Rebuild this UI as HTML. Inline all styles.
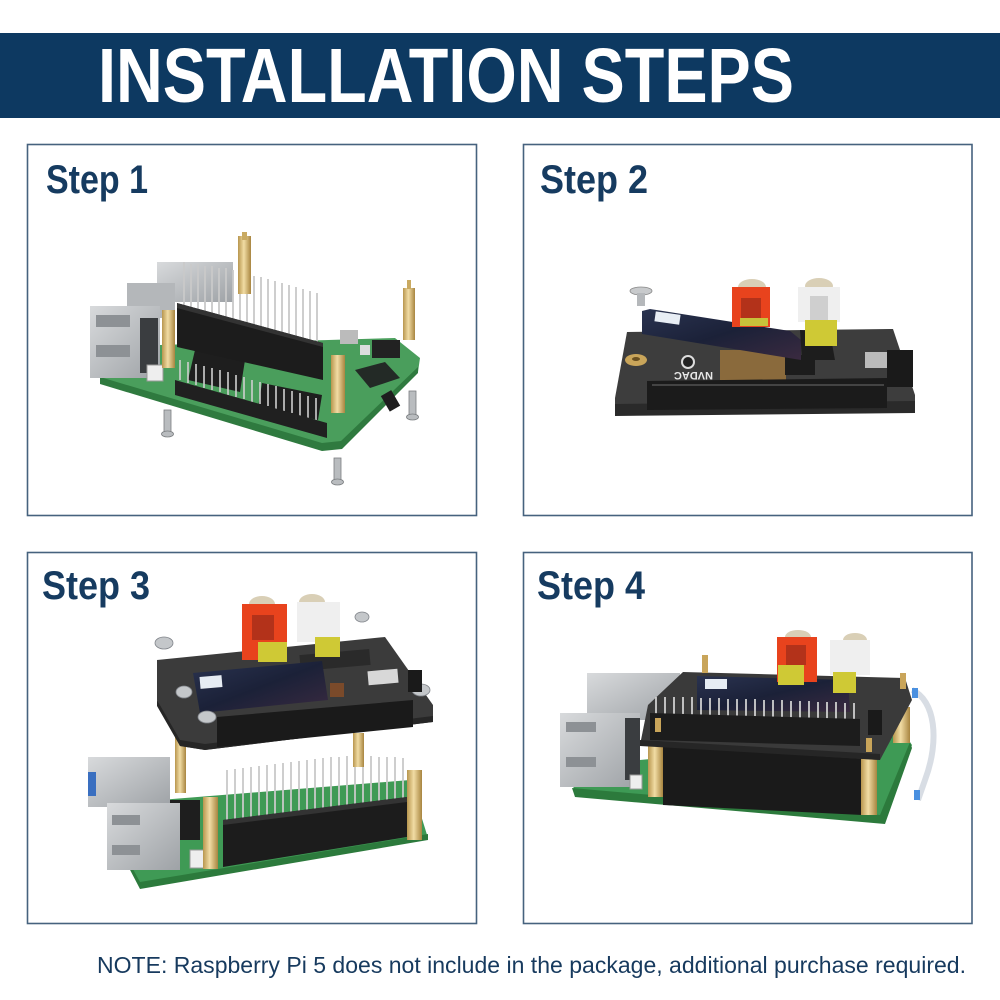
<!DOCTYPE html>
<html>
<head>
<meta charset="utf-8">
<style>
html,body{margin:0;padding:0;background:#fff;}
svg{display:block;}
</style>
</head>
<body>
<svg width="1000" height="1000" viewBox="0 0 1000 1000" xmlns="http://www.w3.org/2000/svg">
<defs>
<linearGradient id="brass" x1="0" x2="1" y1="0" y2="0">
<stop offset="0" stop-color="#b8964e"/><stop offset="0.45" stop-color="#f1dca4"/><stop offset="1" stop-color="#a88540"/>
</linearGradient>
<linearGradient id="metal" x1="0" x2="1" y1="0" y2="1">
<stop offset="0" stop-color="#d8dadc"/><stop offset="1" stop-color="#9ea2a6"/>
</linearGradient>
<linearGradient id="ssd" x1="0" x2="1" y1="0" y2="1">
<stop offset="0" stop-color="#2a3350"/><stop offset="0.5" stop-color="#1b2138"/><stop offset="1" stop-color="#3a2a40"/>
</linearGradient>
</defs>
<rect width="1000" height="1000" fill="#fff"/>

<!-- Banner -->
<rect x="0" y="33" width="1000" height="85" fill="#0d3961"/>
<text x="98" y="102" font-family="Liberation Sans, sans-serif" font-weight="bold" font-size="77" fill="#fff" textLength="696" lengthAdjust="spacingAndGlyphs">INSTALLATION STEPS</text>

<!-- Boxes -->
<g fill="none" stroke="#46627e" stroke-width="1.6">
<rect x="27.5" y="144.5" width="449" height="371"/>
<rect x="523.5" y="144.5" width="448.5" height="371"/>
<rect x="27.5" y="552.5" width="449" height="371"/>
<rect x="523.5" y="552.5" width="448.5" height="371"/>
</g>

<g font-family="Liberation Sans, sans-serif" font-weight="bold" font-size="40" fill="#163b60">
<text x="46" y="193" textLength="102" lengthAdjust="spacingAndGlyphs">Step 1</text>
<text x="540" y="193" textLength="108" lengthAdjust="spacingAndGlyphs">Step 2</text>
<text x="42" y="599" textLength="108" lengthAdjust="spacingAndGlyphs">Step 3</text>
<text x="537" y="599" textLength="108" lengthAdjust="spacingAndGlyphs">Step 4</text>
</g>

<!-- ============ STEP 1 ============ -->
<g>
<!-- board -->
<polygon points="100,366 160,345 395,338 420,358 418,372 342,446 322,448 100,382" fill="#4a9e5c"/>
<polygon points="100,377 322,443 341,441 418,367 418,373 342,449 322,451 100,384" fill="#2f7a3f"/>
<!-- chips -->
<polygon points="195,350 245,360 240,392 188,380" fill="#1e1e1e"/>
<polygon points="262,383 322,395 318,420 258,408" fill="#1e1e1e"/>
<polygon points="355,370 385,362 400,378 370,388" fill="#232a26"/>
<rect x="372" y="340" width="28" height="18" fill="#222"/>
<rect x="340" y="330" width="18" height="14" fill="#bbb"/>
<rect x="360" y="345" width="10" height="10" fill="#ddd"/>
<rect x="384" y="392" width="12" height="18" fill="#1e1e1e" transform="rotate(-30 390 400)"/>
<!-- metal ports -->
<rect x="157" y="262" width="76" height="40" fill="url(#metal)"/>
<rect x="127" y="283" width="48" height="35" fill="#b4b7ba"/>
<rect x="90" y="306" width="70" height="72" fill="url(#metal)"/>
<rect x="96" y="315" width="34" height="12" fill="#8d9195"/>
<rect x="96" y="345" width="34" height="12" fill="#8d9195"/>
<rect x="140" y="318" width="18" height="55" fill="#3a3d40"/>
<rect x="147" y="365" width="16" height="16" fill="#eee" stroke="#999" stroke-width="1"/>
<!-- big header pins -->
<g stroke="#c9c9c9" stroke-width="1.8">
<line x1="184" y1="262" x2="184" y2="305"/><line x1="191" y1="264" x2="191" y2="307"/><line x1="198" y1="264" x2="198" y2="309"/><line x1="205" y1="266" x2="205" y2="311"/><line x1="212" y1="266" x2="212" y2="313"/><line x1="219" y1="268" x2="219" y2="315"/><line x1="226" y1="268" x2="226" y2="317"/><line x1="233" y1="270" x2="233" y2="319"/><line x1="240" y1="272" x2="240" y2="321"/><line x1="247" y1="274" x2="247" y2="323"/><line x1="254" y1="276" x2="254" y2="325"/><line x1="261" y1="277" x2="261" y2="326"/><line x1="268" y1="279" x2="268" y2="328"/><line x1="275" y1="281" x2="275" y2="330"/><line x1="282" y1="283" x2="282" y2="332"/><line x1="289" y1="285" x2="289" y2="334"/><line x1="296" y1="287" x2="296" y2="336"/><line x1="303" y1="289" x2="303" y2="338"/><line x1="310" y1="291" x2="310" y2="340"/><line x1="317" y1="293" x2="317" y2="342"/>
</g>
<polygon points="177,303 323,343 323,380 177,347" fill="#1c1c1c"/>
<polygon points="177,303 323,343 323,347 177,308" fill="#333"/>
<!-- lower header -->
<g stroke="#cfcfcf" stroke-width="1.6">
<line x1="180" y1="360" x2="180" y2="380"/><line x1="188" y1="362" x2="188" y2="383"/><line x1="196" y1="364" x2="196" y2="385"/><line x1="204" y1="366" x2="204" y2="388"/><line x1="212" y1="368" x2="212" y2="390"/><line x1="220" y1="370" x2="220" y2="392"/><line x1="228" y1="372" x2="228" y2="395"/><line x1="236" y1="375" x2="236" y2="397"/><line x1="244" y1="377" x2="244" y2="399"/><line x1="252" y1="380" x2="252" y2="402"/><line x1="260" y1="382" x2="260" y2="404"/><line x1="268" y1="384" x2="268" y2="406"/><line x1="276" y1="386" x2="276" y2="409"/><line x1="284" y1="389" x2="284" y2="411"/><line x1="292" y1="391" x2="292" y2="413"/><line x1="300" y1="393" x2="300" y2="416"/><line x1="308" y1="396" x2="308" y2="418"/><line x1="316" y1="398" x2="316" y2="420"/>
</g>
<polygon points="175,380 327,423 327,438 175,395" fill="#202020"/>
<!-- standoffs -->
<rect x="238" y="236" width="13" height="58" fill="url(#brass)"/>
<rect x="242" y="232" width="5" height="8" fill="#c9aa62"/>
<rect x="403" y="288" width="12" height="52" fill="url(#brass)"/>
<rect x="407" y="280" width="4" height="9" fill="#c9aa62"/>
<rect x="162" y="310" width="13" height="58" fill="url(#brass)"/>
<rect x="331" y="355" width="14" height="58" fill="url(#brass)"/>
<!-- screws -->
<g fill="#b9bcbf" stroke="#7a7d80" stroke-width="0.8">
<rect x="164" y="410" width="7" height="22"/><ellipse cx="167.5" cy="434" rx="6" ry="3"/>
<rect x="409" y="391" width="7" height="24"/><ellipse cx="412.5" cy="417" rx="6" ry="3"/>
<rect x="334" y="458" width="7" height="22"/><ellipse cx="337.5" cy="482" rx="6" ry="3"/>
</g>
</g>

<!-- ============ STEP 2 ============ -->
<g>
<polygon points="627,332 893,329 915,395 915,412 615,415 615,398" fill="#3d3d3d"/>
<polygon points="615,404 915,401 915,413 615,416" fill="#2a2a2a"/>
<!-- gold pads -->
<rect x="720" y="350" width="66" height="30" fill="#8a6a3c"/>
<!-- components -->
<rect x="785" y="355" width="30" height="20" fill="#1c1c1c"/>
<rect x="865" y="352" width="22" height="16" fill="#bbb"/>
<circle cx="688" cy="362" r="6" fill="#222" stroke="#ddd" stroke-width="2"/>
<!-- header -->
<polygon points="647,381 887,378 887,408 647,410" fill="#1b1b1b"/>
<g fill="#444">
<rect x="652" y="384" width="232" height="2"/>
</g>
<!-- SSD -->
<polygon points="642,311 650,309 790,331 801,340 801,360 642,334" fill="url(#ssd)"/>
<polygon points="800,330 830,333 835,360 802,360" fill="#1d1d1d"/>
<rect x="655" y="313" width="25" height="10" fill="#e8eef5" transform="rotate(8 667 318)"/>
<!-- connectors -->
<ellipse cx="752" cy="287" rx="14" ry="8" fill="#d9cfb6"/>
<rect x="732" y="287" width="38" height="40" fill="#e8431d"/>
<rect x="741" y="298" width="20" height="22" fill="#b3321a"/>
<rect x="740" y="318" width="28" height="8" fill="#c8c23a"/>
<ellipse cx="819" cy="286" rx="14" ry="8" fill="#d9cfb6"/>
<rect x="798" y="287" width="42" height="35" fill="#efefef"/>
<rect x="810" y="296" width="18" height="24" fill="#cfcfcf"/>
<rect x="805" y="320" width="32" height="26" fill="#cfc935"/>
<!-- jack -->
<rect x="887" y="350" width="26" height="37" fill="#1a1a1a"/>
<!-- screw -->
<ellipse cx="641" cy="291" rx="11" ry="4" fill="#c8cacc" stroke="#888" stroke-width="0.8"/>
<rect x="637" y="293" width="8" height="13" fill="#b5b8bb"/>
<!-- standoff -->
<ellipse cx="636" cy="360" rx="11" ry="6" fill="#c9a55a"/>
<ellipse cx="636" cy="359" rx="4" ry="2" fill="#6a5020"/>
<text x="0" y="0" font-family="Liberation Sans, sans-serif" font-weight="bold" font-size="11" fill="#e8e8e8" transform="translate(713,372) rotate(180)">NVDAC</text>
</g>

<!-- ============ STEP 3 ============ -->
<g>
<!-- lower pi board -->
<polygon points="160,800 410,780 428,838 140,888 128,860" fill="#3f9a55"/>
<polygon points="128,860 140,882 428,834 428,840 140,889 128,866" fill="#2c7a3c"/>
<rect x="170" y="800" width="30" height="40" fill="#1e1e1e"/>
<!-- metal ports -->
<rect x="88" y="757" width="82" height="50" fill="url(#metal)"/>
<rect x="88" y="772" width="8" height="24" fill="#3a6fc0"/>
<rect x="107" y="803" width="73" height="67" fill="url(#metal)"/>
<rect x="112" y="815" width="28" height="10" fill="#8d9195"/>
<rect x="112" y="845" width="28" height="10" fill="#8d9195"/>
<rect x="190" y="850" width="14" height="18" fill="#eee" stroke="#999" stroke-width="1"/>
<!-- pins -->
<g stroke="#c9c9c9" stroke-width="1.8">
<line x1="227" y1="770" x2="227" y2="820"/><line x1="235" y1="769" x2="235" y2="819"/><line x1="243" y1="768" x2="243" y2="818"/><line x1="251" y1="767" x2="251" y2="817"/><line x1="259" y1="766" x2="259" y2="816"/><line x1="267" y1="765" x2="267" y2="815"/><line x1="275" y1="764" x2="275" y2="814"/><line x1="283" y1="763" x2="283" y2="813"/><line x1="291" y1="762" x2="291" y2="812"/><line x1="299" y1="761" x2="299" y2="811"/><line x1="307" y1="760" x2="307" y2="810"/><line x1="315" y1="759" x2="315" y2="809"/><line x1="323" y1="758" x2="323" y2="808"/><line x1="331" y1="757" x2="331" y2="807"/><line x1="339" y1="757" x2="339" y2="806"/><line x1="347" y1="756" x2="347" y2="805"/><line x1="355" y1="756" x2="355" y2="804"/><line x1="363" y1="756" x2="363" y2="803"/><line x1="371" y1="756" x2="371" y2="802"/><line x1="379" y1="757" x2="379" y2="801"/><line x1="387" y1="757" x2="387" y2="800"/><line x1="395" y1="757" x2="395" y2="799"/><line x1="403" y1="758" x2="403" y2="798"/>
</g>
<polygon points="223,820 407,797 407,837 223,867" fill="#1c1c1c"/>
<polygon points="223,820 407,797 407,802 223,825" fill="#333"/>
<!-- lower standoffs -->
<rect x="203" y="797" width="15" height="72" fill="url(#brass)"/>
<rect x="407" y="770" width="15" height="70" fill="url(#brass)"/>
<rect x="175" y="728" width="11" height="65" fill="url(#brass)"/>
<rect x="353" y="733" width="11" height="34" fill="url(#brass)"/>
<!-- HAT board -->
<polygon points="157,660 385,637 433,705 433,722 205,750 180,746 157,700" fill="#3b3b3b"/>
<polygon points="157,700 180,740 205,744 433,716 433,722 205,750 180,746 157,706" fill="#262626"/>
<polygon points="217,717 413,700 413,727 217,747" fill="#1a1a1a"/>
<rect x="300" y="652" width="70" height="16" fill="#2a2a2a" transform="rotate(-5 335 660)"/>
<!-- SSD -->
<polygon points="193,673 322,661 328,700 200,713" fill="url(#ssd)"/>
<rect x="200" y="676" width="22" height="12" fill="#e6ecf3" transform="rotate(-5 211 682)"/>
<rect x="330" y="683" width="14" height="14" fill="#7a4a2a"/>
<rect x="368" y="670" width="30" height="14" fill="#d8d8d8" transform="rotate(-5 383 677)"/>
<!-- connectors -->
<ellipse cx="262" cy="604" rx="13" ry="8" fill="#d9cfb6"/>
<rect x="242" y="604" width="45" height="56" fill="#e8431d"/>
<rect x="252" y="615" width="22" height="25" fill="#b3321a"/>
<rect x="258" y="642" width="29" height="20" fill="#cfc935"/>
<ellipse cx="312" cy="602" rx="13" ry="8" fill="#d9cfb6"/>
<rect x="297" y="602" width="43" height="40" fill="#efefef"/>
<rect x="315" y="637" width="25" height="20" fill="#cfc935"/>
<!-- nuts -->
<g fill="#c4c7ca" stroke="#80848a" stroke-width="0.8">
<ellipse cx="164" cy="643" rx="9" ry="6"/>
<ellipse cx="362" cy="617" rx="7" ry="5"/>
<ellipse cx="421" cy="690" rx="9" ry="6"/>
<ellipse cx="207" cy="717" rx="9" ry="6"/>
<ellipse cx="184" cy="692" rx="8" ry="6"/>
</g>
<rect x="408" y="670" width="14" height="22" fill="#1a1a1a"/>
</g>

<!-- ============ STEP 4 ============ -->
<g>
<!-- pi board -->
<polygon points="572,780 640,760 905,735 912,745 885,822 575,795" fill="#3e9a55"/>
<polygon points="572,788 880,815 910,742 912,748 885,824 575,797" fill="#2c7a3c"/>
<!-- metal -->
<rect x="587" y="673" width="93" height="47" fill="url(#metal)"/>
<rect x="560" y="713" width="80" height="74" fill="url(#metal)"/>
<rect x="566" y="722" width="30" height="10" fill="#8d9195"/>
<rect x="566" y="757" width="30" height="10" fill="#8d9195"/>
<rect x="625" y="718" width="15" height="62" fill="#3a3d40"/>
<rect x="630" y="775" width="12" height="14" fill="#eee" stroke="#999" stroke-width="1"/>
<!-- big header -->
<polygon points="663,740 862,745 862,815 663,805" fill="#1a1a1a"/>
<!-- standoffs -->
<rect x="648" y="743" width="15" height="54" fill="url(#brass)"/>
<rect x="861" y="755" width="16" height="60" fill="url(#brass)"/>
<rect x="893" y="707" width="17" height="36" fill="url(#brass)"/>
<!-- HAT -->
<polygon points="683,672 905,678 912,700 880,760 640,745 648,705" fill="#3a3a3a"/>
<polygon points="640,740 880,754 880,760 640,746" fill="#262626"/>
<!-- SSD -->
<polygon points="697,676 848,680 850,712 697,710" fill="url(#ssd)"/>
<rect x="705" y="679" width="22" height="10" fill="#e6ecf3"/>
<!-- pins on HAT header -->
<g stroke="#cfcfcf" stroke-width="1.8">
<line x1="656" y1="697" x2="656" y2="715"/><line x1="665" y1="697" x2="665" y2="715"/><line x1="674" y1="697" x2="674" y2="715"/><line x1="683" y1="697" x2="683" y2="716"/><line x1="692" y1="697" x2="692" y2="716"/><line x1="701" y1="698" x2="701" y2="716"/><line x1="710" y1="698" x2="710" y2="717"/><line x1="719" y1="698" x2="719" y2="717"/><line x1="728" y1="699" x2="728" y2="717"/><line x1="737" y1="699" x2="737" y2="718"/><line x1="746" y1="699" x2="746" y2="718"/><line x1="755" y1="699" x2="755" y2="718"/><line x1="764" y1="700" x2="764" y2="719"/><line x1="773" y1="700" x2="773" y2="719"/><line x1="782" y1="700" x2="782" y2="719"/><line x1="791" y1="701" x2="791" y2="720"/><line x1="800" y1="701" x2="800" y2="720"/><line x1="809" y1="701" x2="809" y2="720"/><line x1="818" y1="702" x2="818" y2="721"/><line x1="827" y1="702" x2="827" y2="721"/><line x1="836" y1="702" x2="836" y2="721"/><line x1="845" y1="703" x2="845" y2="722"/><line x1="854" y1="703" x2="854" y2="722"/>
</g>
<polygon points="650,713 860,719 860,746 650,740" fill="#1c1c1c"/>
<!-- connectors -->
<ellipse cx="798" cy="637" rx="13" ry="7" fill="#d9cfb6"/>
<rect x="777" y="637" width="40" height="45" fill="#e8431d"/>
<rect x="786" y="645" width="20" height="20" fill="#b3321a"/>
<rect x="778" y="665" width="26" height="20" fill="#cfc935"/>
<ellipse cx="855" cy="640" rx="12" ry="7" fill="#d9cfb6"/>
<rect x="830" y="640" width="40" height="35" fill="#efefef"/>
<rect x="833" y="672" width="23" height="21" fill="#cfc935"/>
<!-- nuts -->
<g fill="#c9a55a">
<rect x="702" y="655" width="6" height="18"/>
<rect x="900" y="673" width="6" height="16"/>
<rect x="655" y="718" width="6" height="14"/>
<rect x="866" y="738" width="6" height="14"/>
</g>
<rect x="868" y="710" width="14" height="25" fill="#1a1a1a"/>
<!-- ribbon -->
<path d="M912,690 C935,700 940,740 925,780 L918,800" fill="none" stroke="#d8dde4" stroke-width="6"/>
<rect x="912" y="688" width="6" height="10" fill="#4a90e0"/>
<rect x="914" y="790" width="6" height="10" fill="#4a90e0"/>
</g>

<!-- Note -->
<text x="97" y="973" font-family="Liberation Sans, sans-serif" font-size="23" fill="#173a5e" textLength="869" lengthAdjust="spacingAndGlyphs">NOTE: Raspberry Pi 5 does not include in the package, additional purchase required.</text>
</svg>
</body>
</html>
